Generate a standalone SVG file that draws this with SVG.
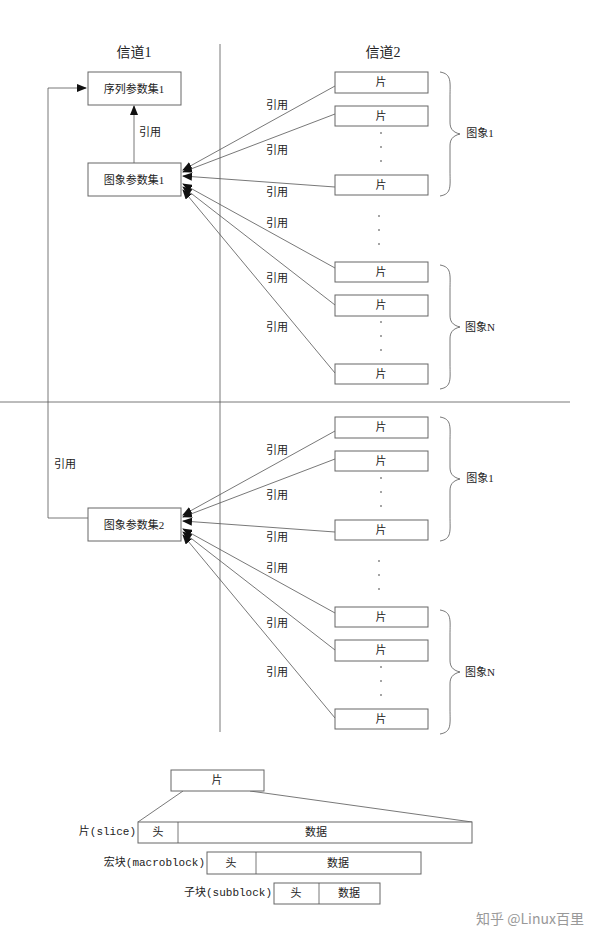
<svg xmlns="http://www.w3.org/2000/svg" width="600" height="945" viewBox="0 0 600 945">
<style>
text{font-family:"Liberation Serif","Noto Sans CJK SC",serif;font-size:11px;fill:#222;text-anchor:middle;dominant-baseline:central}
.m{font-family:"Liberation Mono","Noto Sans CJK SC",monospace;font-size:11px;text-anchor:end}
.b{fill:#fff;stroke:#666;stroke-width:1}
.l{stroke:#555;stroke-width:0.8;fill:none}
.t{font-size:14px}
</style>
<defs>
<marker id="a" markerWidth="10" markerHeight="8" refX="9" refY="4" orient="auto" markerUnits="userSpaceOnUse"><path d="M0,0L10,4L0,8z" fill="#111"/></marker>
<g id="br"><path d="M0,0 C12,2 10,10 10,25 L10,50 C10,56 12,60 20,62 C12,64 10,68 10,74 L10,99 C10,114 12,122 0,124" class="l"/></g>
<g id="sec">
<g class="l" marker-end="url(#a)">
<line x1="335" y1="86" x2="183" y2="170"/>
<line x1="335" y1="114" x2="183" y2="172"/>
<line x1="335" y1="187" x2="183" y2="176"/>
<line x1="335" y1="268" x2="183" y2="184"/>
<line x1="335" y1="305" x2="183" y2="187"/>
<line x1="335" y1="373" x2="183" y2="190"/>
</g>
<text x="277" y="105">引用</text><text x="277" y="150">引用</text><text x="277" y="192">引用</text>
<text x="277" y="223">引用</text><text x="277" y="278">引用</text><text x="277" y="327">引用</text>
<g><rect class="b" x="335" y="72" width="93" height="21"/><text x="381" y="82">片</text></g>
<g><rect class="b" x="335" y="106" width="93" height="20"/><text x="381" y="116">片</text></g>
<g><rect class="b" x="335" y="175" width="93" height="20"/><text x="381" y="185">片</text></g>
<g><rect class="b" x="335" y="262" width="93" height="20"/><text x="381" y="272">片</text></g>
<g><rect class="b" x="335" y="295" width="93" height="21"/><text x="381" y="305">片</text></g>
<g><rect class="b" x="335" y="364" width="93" height="20"/><text x="381" y="374">片</text></g>
<g fill="#333"><circle cx="381" cy="133" r="0.8"/><circle cx="381" cy="147" r="0.8"/><circle cx="381" cy="161" r="0.8"/>
<circle cx="379" cy="216" r="0.8"/><circle cx="379" cy="230" r="0.8"/><circle cx="379" cy="244" r="0.8"/>
<circle cx="381" cy="322" r="0.8"/><circle cx="381" cy="336" r="0.8"/><circle cx="381" cy="350" r="0.8"/></g>
<use href="#br" x="440" y="72"/><use href="#br" x="440" y="265"/>
</g>
</defs>
<rect width="600" height="945" fill="#fff"/>
<g id="connectors">
<line class="l" x1="220" y1="44" x2="220" y2="732"/>
<line class="l" x1="0" y1="402" x2="570" y2="402"/>
<polyline class="l" points="88,518 48,518 48,88 86,88" marker-end="url(#a)"/>
<line class="l" x1="134" y1="163" x2="134" y2="106" marker-end="url(#a)"/>
<line class="l" x1="183" y1="791" x2="138" y2="822"/>
<line class="l" x1="250" y1="791" x2="472" y2="822"/>
</g>
<text class="t" x="134" y="52">信道1</text>
<text class="t" x="383" y="52">信道2</text>
<text x="150" y="132">引用</text>
<text x="65" y="464">引用</text>
<g id="sps1"><rect class="b" x="88" y="72" width="93" height="33"/><text x="134" y="89">序列参数集1</text></g>
<g id="pps1"><rect class="b" x="88" y="163" width="93" height="33"/><text x="134" y="180">图象参数集1</text></g>
<g id="pps2"><rect class="b" x="88" y="508" width="93" height="33"/><text x="134" y="525">图象参数集2</text></g>
<g id="top"><use href="#sec"/></g>
<g id="bot"><use href="#sec" y="345"/></g>
<text x="480" y="133">图象1</text><text x="480" y="327">图象N</text>
<text x="480" y="478">图象1</text><text x="480" y="672">图象N</text>
<g id="slice"><rect class="b" x="171" y="770" width="93" height="21"/><text x="217" y="780">片</text></g>
<g id="row1"><rect class="b" x="138" y="822" width="334" height="21"/><line class="l" x1="178" y1="822" x2="178" y2="843"/><text x="158" y="832">头</text><text x="316" y="832">数据</text><text class="m" x="136" y="832">片(slice)</text></g>
<g id="row2"><rect class="b" x="207" y="852" width="214" height="22"/><line class="l" x1="256" y1="852" x2="256" y2="874"/><text x="231" y="863">头</text><text x="338" y="863">数据</text><text class="m" x="205" y="863">宏块(macroblock)</text></g>
<g id="row3"><rect class="b" x="274" y="883" width="106" height="21"/><line class="l" x1="319" y1="883" x2="319" y2="904"/><text x="296" y="893">头</text><text x="349" y="893">数据</text><text class="m" x="272" y="893">子块(subblock)</text></g>
<text x="530" y="918" style="font-size:14px;fill:#999;font-family:'Noto Sans CJK SC',sans-serif">知乎 @Linux百里</text>
</svg>
